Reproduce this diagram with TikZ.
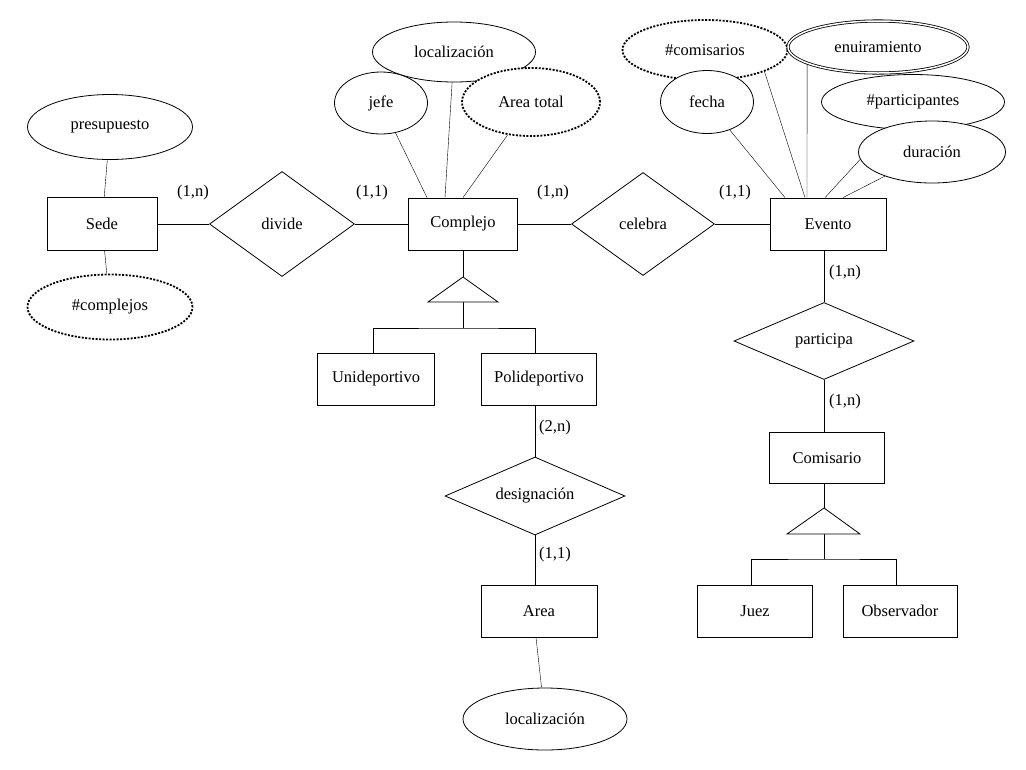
\documentclass[tikz,border=0pt]{standalone}
\usepackage{fontspec}
\setmainfont{Liberation Serif}
\usetikzlibrary{shapes.geometric,calc,backgrounds}
\begin{document}
\begin{tikzpicture}[x=1pt,y=-1pt,
  every node/.style={font=\fontsize{16.5}{18}\selectfont},
  ent/.style={draw,thick,fill=white,minimum width=110pt,minimum height=52pt,inner sep=0},
  rel/.style={draw,thick,fill=white,diamond,aspect=1.85,inner sep=0},
  att/.style={draw,thick,fill=white,ellipse,inner sep=0},
  der/.style={att,dash pattern=on 2pt off 1.5pt,line width=1.8pt},
  mul/.style={att,double,double distance=1.5pt},
  card/.style={inner sep=0},
  tri/.style={draw,thick,fill=white},
  thick]
\useasboundingbox (0,0) rectangle (1026,769);
% entities
\node[ent,minimum height=53pt] (sede) at (102,224) {Sede};
\node[ent,minimum width=109pt] (comp) at (463,224) {Complejo};
\node[ent,minimum width=116pt] (ev) at (828,224) {Evento};
\node[ent,minimum width=117pt] (uni) at (376,379) {Unideportivo};
\node[ent,minimum width=115pt] (poli) at (539,379) {Polideportivo};
\node[ent,minimum width=116pt] (area) at (539,611) {Area};
\node[ent,minimum width=115pt,minimum height=51pt] (com) at (827,458) {Comisario};
\node[ent,minimum width=115pt] (juez) at (755,611) {Juez};
\node[ent,minimum width=114pt] (obs) at (900,611) {Observador};
% relationships
\node[rel,minimum width=145pt,minimum height=105pt] (div) at (282,224) {divide};
\node[rel,minimum width=143pt,minimum height=103pt] (cel) at (643,224) {celebra};
\node[rel,minimum width=180pt,minimum height=77pt] (par) at (824,341) {participa};
\node[rel,minimum width=180pt,minimum height=78pt] (des) at (535,496) {designación};
% attributes (order = stacking)
\node[att,minimum width=165pt,minimum height=65pt] (pre) at (110,127) {presupuesto};
\node[der,minimum width=165pt,minimum height=65pt] (ncomp) at (110,307) {\#complejos};
\node[att,minimum width=163pt,minimum height=60pt] (loc) at (454,52) {localización};
\node[att,minimum width=93pt,minimum height=62pt] (jefe) at (381,103) {jefe};
\node[der,minimum width=138pt,minimum height=68pt] (at) at (531,102) {Area total};
\node[att,minimum width=164pt,minimum height=62pt] (loc2) at (545,719) {localización};
\node[der,minimum width=165pt,minimum height=60pt] (ncom) at (705,50) {\#comisarios};
\node[mul,minimum width=180pt,minimum height=52pt] (enu) at (878,47) {enuiramiento};
\node[att,minimum width=93pt,minimum height=63pt] (fecha) at (707,102) {fecha};
\node[att,minimum width=183pt,minimum height=55pt] (npar) at (913,102) {\#participantes};
\node[att,minimum width=147pt,minimum height=62pt] (dur) at (932,152) {duración};
% cardinalities
\node[card] at (193,193) {(1,n)};
\node[card] at (372,193) {(1,1)};
\node[card] at (553,193) {(1,n)};
\node[card] at (735,193) {(1,1)};
\node[card] at (845,273) {(1,n)};
\node[card] at (845,402) {(1,n)};
\node[card] at (555,428) {(2,n)};
\node[card] at (555,555) {(1,1)};
% ISA triangles
\coordinate (t1a) at (463,277);
\coordinate (t1b) at (463,302);
\draw[tri] (t1a) -- (498,302) -- (428,302) -- cycle;
\coordinate (h1) at (463,328);
\coordinate (t2a) at (824,508);
\coordinate (t2b) at (824,534);
\draw[tri] (t2a) -- (860,534) -- (787,534) -- cycle;
\coordinate (h2) at (824,559);
\begin{scope}[on background layer]
\draw (sede) -- (div) (div) -- (comp) (comp) -- (cel) (cel) -- (ev);
\draw (pre) -- (sede) (sede) -- (ncomp);
\draw (jefe) -- ($(comp.north)+(-36,0)$) (loc) -- ($(comp.north)+(-18,0)$) (at) -- ($(comp.north)+(0,0)$);
\draw (ev.south -| par.north) -- (par) (par) -- (com.north -| par.south);
\draw (poli.south -| des.north) -- (des) (des) -- (area.north -| des.south);
\draw ($(area.south)+(-3,0)$) -- (loc2);
\draw (fecha) -- ($(ev.north)+(-43,0)$);
\draw (ncom.340) -- ($(ev.north)+(-23,0)$);
\draw (enu.193) -- ($(ev.north)+(-21,0)$);
\draw (npar) -- ($(ev.north)+(-3,0)$);
\draw (dur) -- ($(ev.north)+(15,0)$);
\draw (comp.south) -- (t1a) (t1b) -- (h1);
\draw (uni.north -| 373,0) |- (h1) -| (poli.north -| 535,0);
\draw (com.south -| t2a) -- (t2a) (t2b) -- (h2);
\draw (juez.north -| 751,0) |- (h2) -| (obs.north -| 896,0);
\end{scope}
\end{tikzpicture}
\end{document}
